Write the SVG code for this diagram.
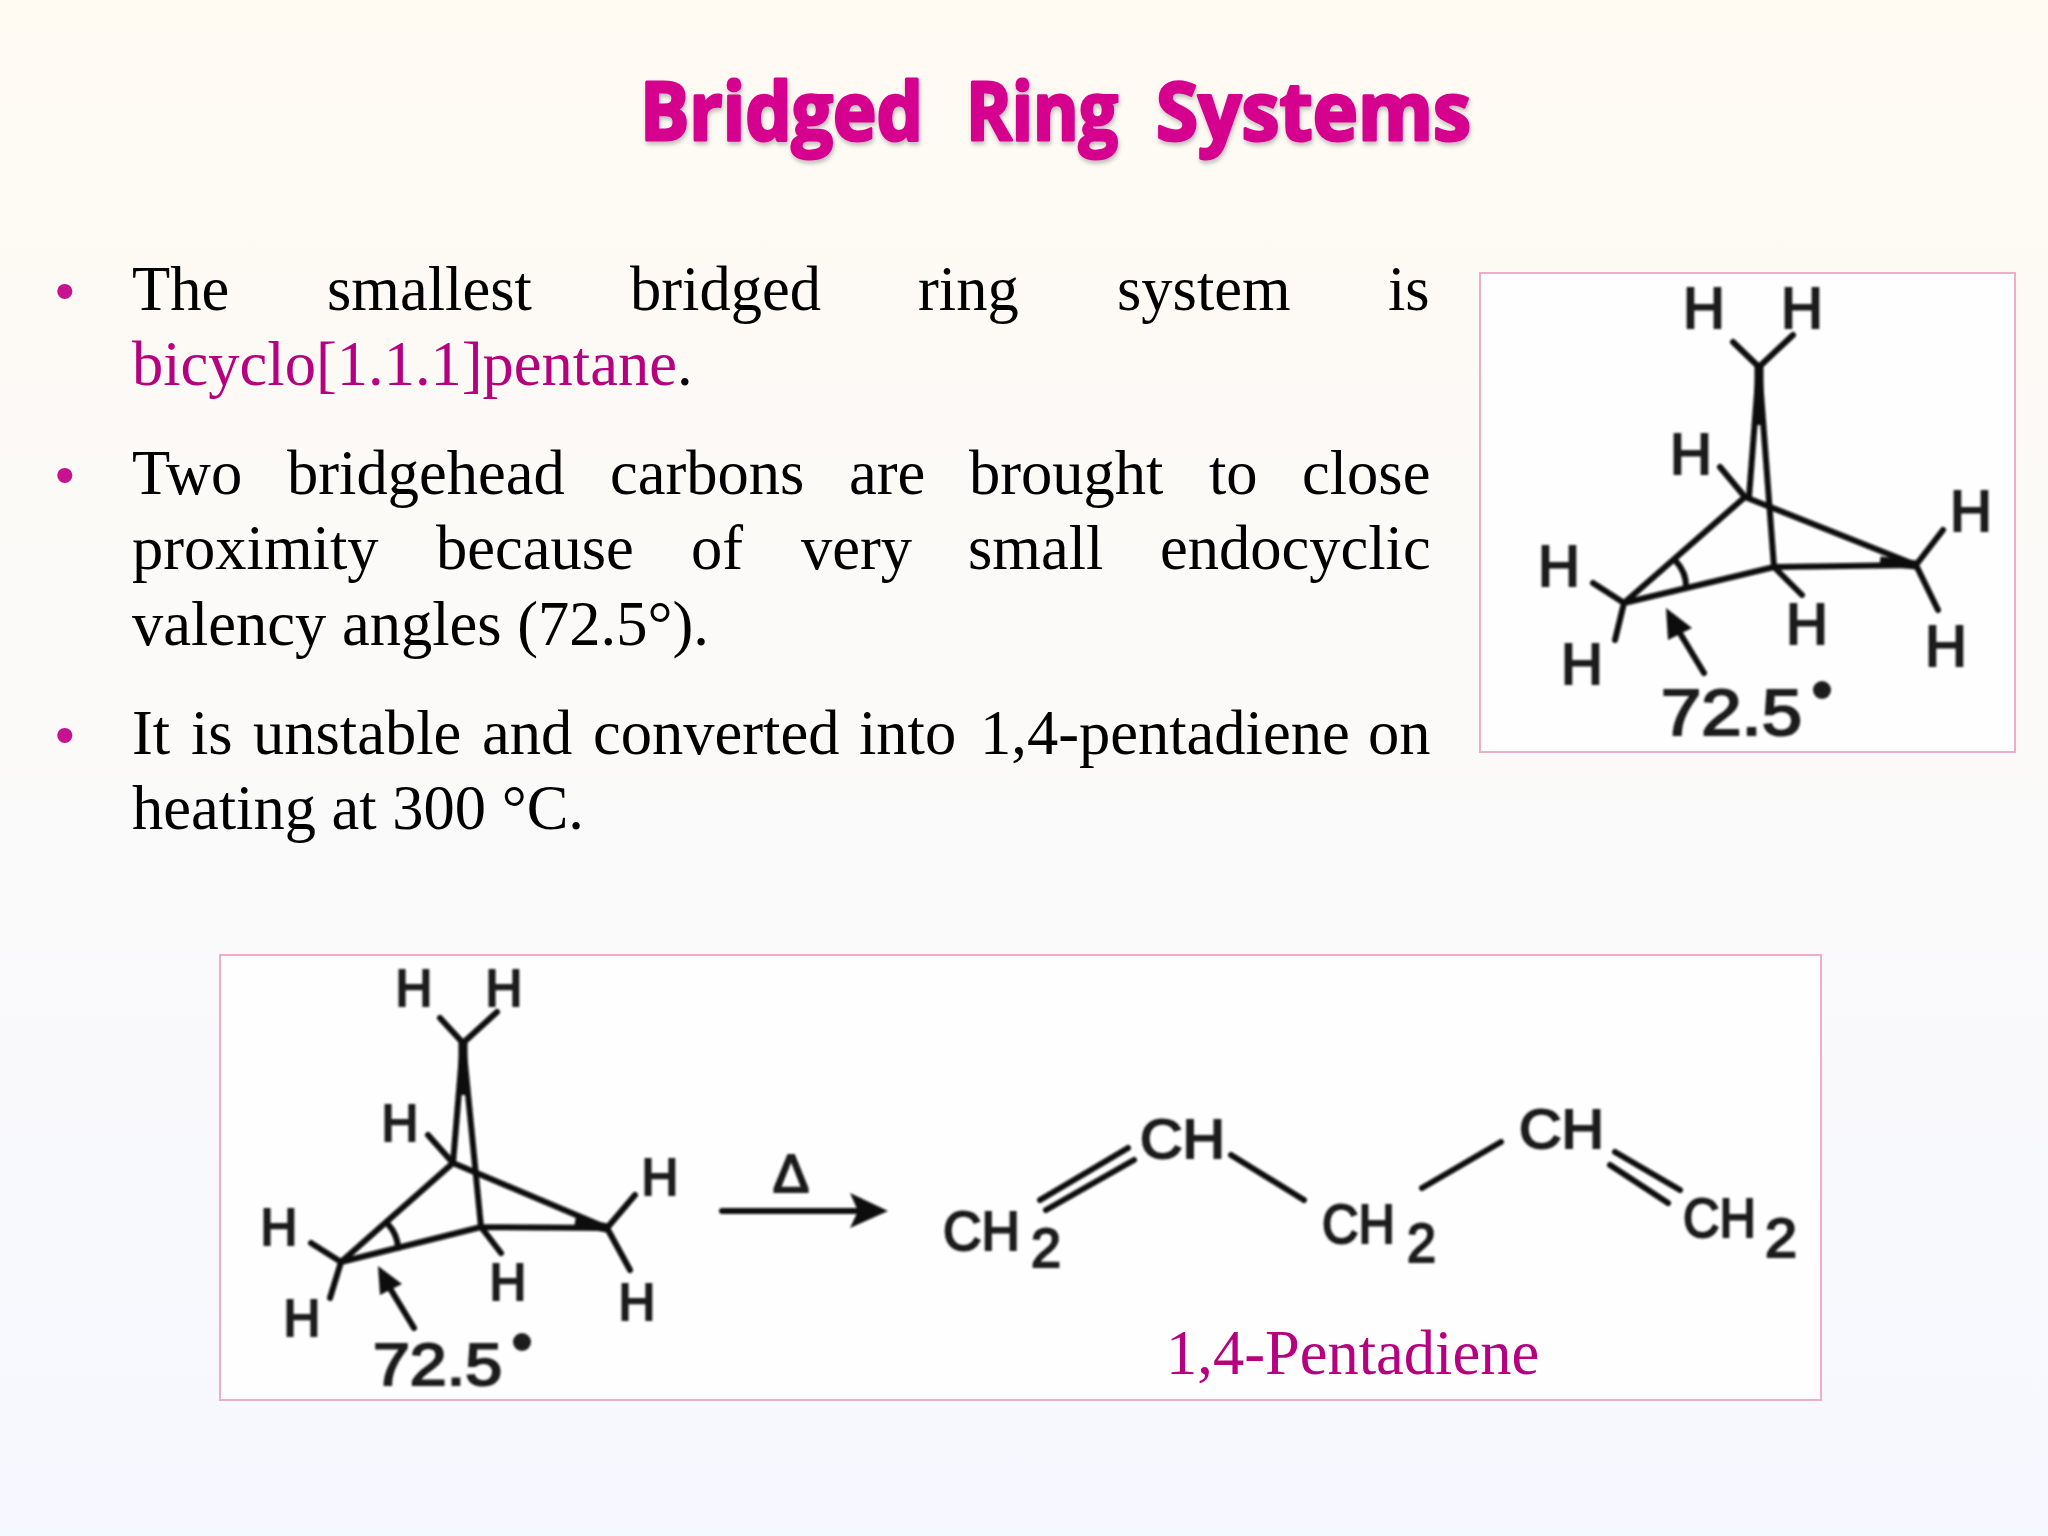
<svg xmlns="http://www.w3.org/2000/svg" width="2048" height="1536" viewBox="0 0 2048 1536">
<defs>
<linearGradient id="bg" x1="0" y1="0" x2="0" y2="1"><stop offset="0" stop-color="#fffbf3"/><stop offset="1" stop-color="#f6f8ff"/></linearGradient>
<filter id="soft" x="-5%" y="-5%" width="110%" height="110%"><feGaussianBlur stdDeviation="1.1"/></filter>
<filter id="shadow" x="-5%" y="-20%" width="110%" height="140%"><feDropShadow dx="1" dy="3" stdDeviation="2" flood-color="#000" flood-opacity="0.25"/></filter>
</defs>
<style>
.body{font-family:"Liberation Serif",serif;font-size:62.5px;fill:#000}
.pink{fill:#b5007f}
.bul{font-family:"Liberation Sans",sans-serif;font-size:56px;fill:#c6128f}
.frame{fill:#fefefe;stroke:#eeadc8;stroke-width:2}
.b{stroke:#0c0c0c;stroke-width:6;fill:none;stroke-linecap:round}
.w{stroke:#0c0c0c;stroke-width:9;fill:none}
.c{font-family:"Liberation Sans",sans-serif;fill:#1a1a1a;stroke:#1a1a1a;stroke-width:2.2}
.h1{font-size:58px;text-anchor:middle}
.h2{font-size:51px;text-anchor:middle}
.f{font-size:56px}
.t{font-family:"Open Sans","Liberation Sans",sans-serif;font-weight:700;font-size:80px;fill:#d6058f;stroke:#d6058f;stroke-width:3;stroke-linejoin:round}
</style>
<rect width="2048" height="1536" fill="url(#bg)"/>
<g id="title" filter="url(#shadow)"><text class="t" y="140"><tspan x="640" textLength="283" lengthAdjust="spacingAndGlyphs">Bridged</tspan> <tspan x="966" textLength="152" lengthAdjust="spacingAndGlyphs">Ring</tspan> <tspan x="1156" textLength="315" lengthAdjust="spacingAndGlyphs">Systems</tspan></text></g>
<g id="bullets">
<text class="bul" x="55" y="310">•</text>
<text class="body" y="310"><tspan x="132">The </tspan><tspan x="327">smallest </tspan><tspan x="630">bridged </tspan><tspan x="918">ring </tspan><tspan x="1117">system </tspan><tspan x="1388">is</tspan></text>
<text class="body" x="132" y="385"><tspan class="pink">bicyclo[1.1.1]pentane</tspan>.</text>
<text class="bul" x="55" y="494">•</text>
<text class="body" y="494"><tspan x="132">Two </tspan><tspan x="287">bridgehead </tspan><tspan x="610">carbons </tspan><tspan x="849">are </tspan><tspan x="969">brought </tspan><tspan x="1209">to </tspan><tspan x="1302">close</tspan></text>
<text class="body" y="569"><tspan x="132">proximity </tspan><tspan x="436">because </tspan><tspan x="691">of </tspan><tspan x="801">very </tspan><tspan x="968">small </tspan><tspan x="1160">endocyclic</tspan></text>
<text class="body" x="132" y="645">valency angles (72.5°).</text>
<text class="bul" x="55" y="754">•</text>
<text class="body" y="754"><tspan x="132">It </tspan><tspan x="191">is </tspan><tspan x="253">unstable </tspan><tspan x="482">and </tspan><tspan x="593">converted </tspan><tspan x="859">into </tspan><tspan x="980">1,4-pentadiene </tspan><tspan x="1368">on</tspan></text>
<text class="body" x="132" y="829">heating at 300 °C.</text>
</g>
<g id="figure-top">
<rect class="frame" x="1480" y="273" width="535" height="479"/>
<g filter="url(#soft)">
<g id="connectors-top">
<path class="b" d="M1733 342L1759 367L1793 335M1759 367L1749 497M1759 367L1774 567"/>
<path class="w" d="M1759 367L1759 425M1880 561L1916 565"/>
<path class="b" d="M1720 467L1745 497L1624 603M1745 497L1916 565L1774 567L1624 603M1774 567L1802 595M1624 603L1593 583M1624 603L1615 640M1916 565L1943 530M1916 565L1938 610"/>
<path class="b" d="M1675 560Q1687 573 1686 588"/>
<path class="b" stroke-width="7" d="M1704 673L1675 625"/>
<path d="M1666 608L1668 640L1692 628Z" fill="#0c0c0c"/>
</g>
<g id="labels-top">
<text class="c h1" x="1704" y="328">H</text><text class="c h1" x="1802" y="328">H</text>
<text class="c h1" x="1691" y="474">H</text><text class="c h1" x="1559" y="586">H</text>
<text class="c h1" x="1582" y="684">H</text><text class="c h1" x="1807" y="644">H</text>
<text class="c h1" x="1971" y="531">H</text><text class="c h1" x="1946" y="666">H</text>
<text class="c" x="1661" y="735" font-size="64" textLength="141" lengthAdjust="spacingAndGlyphs">72.5</text>
<circle cx="1822" cy="690" r="9" fill="#1a1a1a"/>
</g>
</g>
</g>
<g id="figure-bottom">
<rect class="frame" x="220" y="955" width="1601" height="445"/>
<g filter="url(#soft)">
<g id="connectors-bottom">
<path class="b" d="M440 1018L463 1043L497 1012M463 1043L453 1163M463 1043L481 1227"/>
<path class="w" d="M463 1043L463 1095M575 1222L607 1228"/>
<path class="b" d="M428 1135L453 1163L341 1262M453 1163L607 1228L481 1227L341 1262M481 1227L501 1253M341 1262L311 1243M341 1262L330 1298M607 1228L635 1195M607 1228L630 1270"/>
<path class="b" d="M387 1223Q398 1235 398 1248"/>
<path class="b" stroke-width="7" d="M414 1328L388 1285"/>
<path d="M378 1266L380 1295L402 1284Z" fill="#0c0c0c"/>
<path class="b" stroke-width="7" d="M722 1211H880"/>
<path d="M850 1193L888 1211L850 1228L858 1211Z" fill="#0c0c0c"/>
<path class="b" d="M1040 1200L1128 1148M1046 1210L1134 1160M1231 1155L1304 1200M1422 1188L1501 1142M1615 1152L1680 1190M1610 1165L1668 1203"/>
</g>
<g id="labels-bottom">
<text class="c h2" x="414" y="1006">H</text><text class="c h2" x="504" y="1006">H</text>
<text class="c h2" x="400" y="1141">H</text><text class="c h2" x="279" y="1245">H</text>
<text class="c h2" x="302" y="1336">H</text><text class="c h2" x="508" y="1300">H</text>
<text class="c h2" x="660" y="1195">H</text><text class="c h2" x="637" y="1320">H</text>
<text class="c" x="373" y="1385" font-size="60" textLength="129" lengthAdjust="spacingAndGlyphs">72.5</text>
<circle cx="522" cy="1342" r="9" fill="#1a1a1a"/>
<text class="c" x="791" y="1192" font-size="54" text-anchor="middle">Δ</text>
<text class="c f" x="943" y="1250" textLength="77" lengthAdjust="spacingAndGlyphs">CH</text><text class="c f" x="1031" y="1267" textLength="30" lengthAdjust="spacingAndGlyphs">2</text>
<text class="c f" x="1140" y="1158" textLength="85" lengthAdjust="spacingAndGlyphs">CH</text>
<text class="c f" x="1322" y="1243" textLength="73" lengthAdjust="spacingAndGlyphs">CH</text><text class="c f" x="1407" y="1262" textLength="29" lengthAdjust="spacingAndGlyphs">2</text>
<text class="c f" x="1519" y="1148" textLength="85" lengthAdjust="spacingAndGlyphs">CH</text>
<text class="c f" x="1683" y="1237" textLength="73" lengthAdjust="spacingAndGlyphs">CH</text><text class="c f" x="1765" y="1257" textLength="32" lengthAdjust="spacingAndGlyphs">2</text>
</g>
</g>
<text class="body pink" x="1166" y="1374">1,4-Pentadiene</text>
</g>
</svg>
